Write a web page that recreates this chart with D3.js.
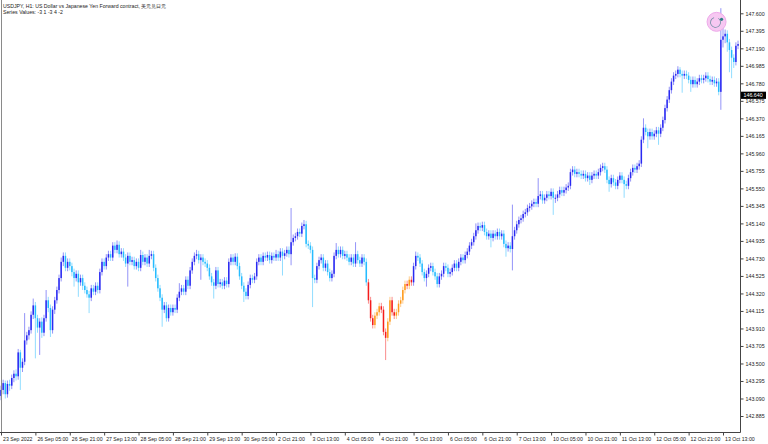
<!DOCTYPE html>
<html><head><meta charset="utf-8">
<script src="https://cdn.jsdelivr.net/npm/d3@7/dist/d3.min.js"></script>
<style>body{margin:0;background:#fff}svg{display:block}</style>
</head><body><svg id="c" width="768" height="444"></svg>
<script>
const title = "USDJPY, H1:  US Dollar vs Japanese Yen Forward contract, 美元兑日元";
const subtitle = "Series Values: -3 1 -3 4 -2";

const opens = [
143.12,143.19,143.27,143.14,143.26,143.24,143.33,143.38,143.35,143.63,
143.45,143.52,143.77,143.83,143.89,144.07,144.18,144.03,143.92,143.99,
143.86,144.03,144.24,144.15,143.89,144.13,144.24,144.36,144.50,144.69,
144.76,144.62,144.69,144.64,144.57,144.50,144.55,144.45,144.50,144.41,
144.36,144.31,144.27,144.38,144.34,144.41,144.36,144.57,144.69,144.64,
144.74,144.78,144.74,144.88,144.83,144.89,144.78,144.81,144.74,144.67,
144.76,144.69,144.71,144.64,144.69,144.62,144.77,144.69,144.74,144.67,
144.76,144.78,144.62,144.50,144.38,144.27,144.13,144.18,144.03,144.15,
144.10,144.15,144.13,144.27,144.34,144.38,144.34,144.48,144.41,144.59,
144.69,144.76,144.78,144.71,144.74,144.69,144.67,144.62,144.52,144.45,
144.41,144.59,144.43,144.45,144.41,144.47,144.43,144.69,144.74,144.69,
144.75,144.64,144.52,144.41,144.34,144.29,144.42,144.50,144.48,144.52,
144.69,144.74,144.69,144.76,144.74,144.77,144.71,144.76,144.74,144.78,
144.74,144.81,144.76,144.79,144.83,144.78,144.92,144.97,144.99,145.04,
145.02,145.11,145.13,144.90,144.88,144.83,144.50,144.48,144.64,144.71,
144.74,144.62,144.67,144.57,144.50,144.55,144.76,144.83,144.78,144.83,
144.76,144.78,144.74,144.69,144.74,144.67,144.78,144.71,144.67,144.74,
144.69,144.45,144.24,144.03,143.95,144.06,144.10,144.17,144.13,143.87,
143.80,143.99,144.24,144.10,144.06,144.10,144.20,144.24,144.36,144.43,
144.41,144.48,144.45,144.64,144.76,144.74,144.67,144.57,144.50,144.55,
144.62,144.64,144.57,144.52,144.43,144.52,144.55,144.64,144.62,144.55,
144.57,144.62,144.67,144.62,144.69,144.74,144.71,144.77,144.81,144.88,
144.92,144.99,145.06,145.11,145.09,145.12,145.04,144.99,145.02,144.97,
145.02,144.99,145.04,144.99,145.02,144.90,144.85,144.88,144.84,144.99,
145.06,145.13,145.18,145.20,145.25,145.27,145.32,145.34,145.37,145.39,
145.37,145.46,145.48,145.41,145.44,145.48,145.46,145.51,145.44,145.44,
145.48,145.53,145.50,145.53,145.56,145.58,145.74,145.77,145.72,145.74,
145.72,145.70,145.72,145.67,145.70,145.65,145.70,145.72,145.70,145.74,
145.79,145.81,145.77,145.65,145.60,145.67,145.62,145.58,145.65,145.70,
145.65,145.60,145.58,145.67,145.74,145.79,145.77,145.81,145.84,146.12,
146.26,146.21,146.16,146.21,146.16,146.19,146.23,146.19,146.26,146.35,
146.49,146.59,146.70,146.80,146.87,146.89,146.94,146.89,146.87,146.89,
146.87,146.82,146.77,146.82,146.77,146.80,146.84,146.82,146.84,146.87,
146.83,146.80,146.82,146.78,146.80,146.68,147.29,147.33,147.36,147.26,
147.17,147.08,147.03,147.22];

const highs = [
143.24,143.31,143.30,143.30,143.31,143.37,143.42,143.43,143.67,143.66,
143.56,144.09,143.87,143.93,144.11,144.26,144.22,144.07,144.03,144.04,
144.07,144.36,144.28,144.19,144.17,144.28,144.40,144.54,144.74,144.80,
144.80,144.73,144.73,144.68,144.61,144.59,144.59,144.54,144.54,144.45,
144.40,144.35,144.42,144.42,144.45,144.45,144.61,144.73,144.73,144.78,
144.82,144.82,144.92,144.92,144.94,144.93,144.85,144.85,144.78,144.80,
144.80,144.75,144.75,144.73,144.73,144.83,144.81,144.78,144.78,144.83,
144.82,144.82,144.66,144.54,144.42,144.31,144.22,144.22,144.19,144.19,
144.19,144.19,144.31,144.44,144.42,144.42,144.52,144.52,144.63,144.73,
144.80,144.83,144.82,144.78,144.78,144.73,144.71,144.66,144.56,144.49,
144.63,144.63,144.49,144.49,144.51,144.51,144.73,144.78,144.78,144.79,
144.79,144.68,144.56,144.45,144.38,144.46,144.54,144.54,144.56,144.73,
144.78,144.78,144.80,144.80,144.81,144.81,144.80,144.80,144.83,144.82,
144.85,144.85,144.83,144.87,144.87,145.32,145.01,145.03,145.08,145.08,
145.15,145.18,145.17,144.94,144.92,144.87,144.54,144.68,144.75,144.78,
144.78,144.71,144.71,144.61,144.59,144.80,144.91,144.87,144.87,144.87,
144.82,144.82,144.78,144.78,144.78,144.92,144.82,144.75,144.78,144.78,
144.73,144.49,144.28,144.07,144.10,144.14,144.21,144.21,144.17,143.91,
144.03,144.28,144.28,144.14,144.14,144.24,144.28,144.40,144.47,144.47,
144.52,144.52,144.68,144.81,144.80,144.78,144.71,144.61,144.59,144.66,
144.68,144.68,144.61,144.56,144.56,144.59,144.68,144.68,144.66,144.61,
144.66,144.71,144.71,144.73,144.78,144.78,144.81,144.85,144.92,144.96,
145.03,145.14,145.15,145.15,145.16,145.16,145.08,145.06,145.06,145.06,
145.06,145.08,145.08,145.06,145.06,144.94,144.92,144.92,145.36,145.10,
145.17,145.22,145.24,145.29,145.31,145.36,145.38,145.41,145.43,145.43,
145.67,145.52,145.52,145.48,145.52,145.52,145.55,145.55,145.48,145.52,
145.57,145.57,145.57,145.60,145.62,145.78,145.81,145.81,145.78,145.78,
145.76,145.76,145.76,145.74,145.74,145.74,145.76,145.76,145.78,145.83,
145.85,145.85,145.81,145.69,145.71,145.71,145.66,145.69,145.74,145.74,
145.69,145.64,145.71,145.78,145.83,145.83,145.85,145.88,146.16,146.37,
146.30,146.25,146.25,146.25,146.23,146.27,146.27,146.30,146.39,146.53,
146.63,146.74,146.84,146.91,146.93,146.98,146.97,146.93,146.93,146.93,
146.91,146.86,146.86,146.86,146.84,146.88,146.88,146.88,146.91,146.91,
146.87,146.86,146.86,146.84,146.84,147.66,147.58,147.41,147.40,147.30,
147.21,147.12,147.26,147.28];

const lows = [
143.07,143.14,143.09,143.10,143.18,143.20,143.28,143.30,143.31,143.19,
143.40,143.48,143.72,143.78,143.85,144.02,143.56,143.86,143.60,143.80,
143.82,143.99,144.10,143.81,143.85,144.08,144.20,144.32,144.46,144.64,
144.58,144.58,144.59,144.52,144.40,144.46,144.28,144.41,144.36,144.32,
144.27,144.09,144.23,144.30,144.30,144.32,144.32,144.53,144.60,144.60,
144.70,144.70,144.70,144.79,144.79,144.74,144.74,144.70,144.63,144.40,
144.65,144.65,144.60,144.60,144.58,144.58,144.65,144.65,144.63,144.63,
144.72,144.58,144.46,144.34,144.23,143.93,144.09,143.99,143.99,144.06,
144.06,144.09,144.09,144.23,144.30,144.30,144.30,144.37,144.37,144.55,
144.65,144.72,144.67,144.48,144.65,144.63,144.58,144.48,144.41,144.26,
144.37,144.39,144.39,144.37,144.37,144.39,144.39,144.65,144.65,144.65,
144.60,144.48,144.37,144.22,144.25,144.25,144.38,144.44,144.44,144.48,
144.65,144.65,144.65,144.70,144.70,144.67,144.67,144.70,144.70,144.70,
144.70,144.53,144.72,144.75,144.74,144.65,144.88,144.93,144.95,144.98,
144.98,145.07,144.86,144.84,144.79,144.16,144.44,144.44,144.60,144.67,
144.58,144.58,144.53,144.46,144.46,144.51,144.72,144.74,144.74,144.72,
144.72,144.70,144.65,144.65,144.63,144.63,144.67,144.63,144.63,144.65,
144.41,144.20,143.99,143.91,143.91,144.02,144.06,144.09,143.83,143.54,
143.76,143.95,144.06,144.02,144.02,144.06,144.16,144.20,144.32,144.37,
144.37,144.41,144.41,144.60,144.70,144.63,144.53,144.46,144.40,144.51,
144.58,144.53,144.48,144.39,144.39,144.48,144.51,144.58,144.51,144.51,
144.53,144.58,144.58,144.58,144.65,144.67,144.67,144.73,144.77,144.84,
144.88,144.95,145.02,145.05,145.05,145.00,144.95,144.95,144.86,144.93,
144.95,144.95,144.95,144.95,144.86,144.75,144.81,144.80,144.59,144.95,
145.02,145.09,145.14,145.16,145.21,145.23,145.28,145.30,145.33,145.33,
145.33,145.42,145.37,145.37,145.40,145.42,145.42,145.24,145.38,145.40,
145.44,145.46,145.46,145.49,145.52,145.54,145.70,145.68,145.68,145.68,
145.66,145.66,145.63,145.63,145.59,145.61,145.66,145.66,145.66,145.70,
145.75,145.73,145.61,145.51,145.56,145.58,145.54,145.54,145.61,145.61,
145.44,145.54,145.54,145.63,145.70,145.73,145.73,145.77,145.80,146.08,
146.17,146.02,146.12,146.12,146.12,146.15,146.06,146.15,146.22,146.31,
146.45,146.55,146.66,146.76,146.83,146.85,146.85,146.67,146.83,146.83,
146.78,146.68,146.73,146.73,146.73,146.76,146.78,146.78,146.80,146.79,
146.76,146.76,146.74,146.74,146.64,146.47,147.20,147.25,147.15,146.91,
146.84,146.96,146.99,147.18];

const closes = [
143.19,143.27,143.14,143.26,143.24,143.33,143.38,143.35,143.63,143.45,
143.52,143.77,143.83,143.89,144.07,144.18,144.03,143.92,143.99,143.86,
144.03,144.24,144.15,143.89,144.13,144.24,144.36,144.50,144.69,144.76,
144.62,144.69,144.64,144.57,144.50,144.55,144.45,144.50,144.41,144.36,
144.31,144.27,144.38,144.34,144.41,144.36,144.57,144.69,144.64,144.74,
144.78,144.74,144.88,144.83,144.89,144.78,144.81,144.74,144.67,144.76,
144.69,144.71,144.64,144.69,144.62,144.77,144.69,144.74,144.67,144.76,
144.78,144.62,144.50,144.38,144.27,144.13,144.18,144.03,144.15,144.10,
144.15,144.13,144.27,144.34,144.38,144.34,144.48,144.41,144.59,144.69,
144.76,144.78,144.71,144.74,144.69,144.67,144.62,144.52,144.45,144.41,
144.59,144.43,144.45,144.41,144.47,144.43,144.69,144.74,144.69,144.75,
144.64,144.52,144.41,144.34,144.29,144.42,144.50,144.48,144.52,144.69,
144.74,144.69,144.76,144.74,144.77,144.71,144.76,144.74,144.78,144.74,
144.81,144.76,144.79,144.83,144.78,144.92,144.97,144.99,145.04,145.02,
145.11,145.13,144.90,144.88,144.83,144.50,144.48,144.64,144.71,144.74,
144.62,144.67,144.57,144.50,144.55,144.76,144.83,144.78,144.83,144.76,
144.78,144.74,144.69,144.74,144.67,144.78,144.71,144.67,144.74,144.69,
144.45,144.24,144.03,143.95,144.06,144.10,144.17,144.13,143.87,143.80,
143.99,144.24,144.10,144.06,144.10,144.20,144.24,144.36,144.43,144.41,
144.48,144.45,144.64,144.76,144.74,144.67,144.57,144.50,144.55,144.62,
144.64,144.57,144.52,144.43,144.52,144.55,144.64,144.62,144.55,144.57,
144.62,144.67,144.62,144.69,144.74,144.71,144.77,144.81,144.88,144.92,
144.99,145.06,145.11,145.09,145.12,145.04,144.99,145.02,144.97,145.02,
144.99,145.04,144.99,145.02,144.90,144.85,144.88,144.84,144.99,145.06,
145.13,145.18,145.20,145.25,145.27,145.32,145.34,145.37,145.39,145.37,
145.46,145.48,145.41,145.44,145.48,145.46,145.51,145.44,145.44,145.48,
145.53,145.50,145.53,145.56,145.58,145.74,145.77,145.72,145.74,145.72,
145.70,145.72,145.67,145.70,145.65,145.70,145.72,145.70,145.74,145.79,
145.81,145.77,145.65,145.60,145.67,145.62,145.58,145.65,145.70,145.65,
145.60,145.58,145.67,145.74,145.79,145.77,145.81,145.84,146.12,146.26,
146.21,146.16,146.21,146.16,146.19,146.23,146.19,146.26,146.35,146.49,
146.59,146.70,146.80,146.87,146.89,146.94,146.89,146.87,146.89,146.87,
146.82,146.77,146.82,146.77,146.80,146.84,146.82,146.84,146.87,146.83,
146.80,146.82,146.78,146.80,146.68,147.29,147.33,147.36,147.26,147.17,
147.08,147.03,147.22,147.24];

// bars painted in the bearish (red / orange) regime
const bearRegime = [171, 191];

const timeLabels = ["23 Sep 2022","26 Sep 05:00","26 Sep 21:00","27 Sep 13:00","28 Sep 05:00",
  "28 Sep 21:00","29 Sep 13:00","30 Sep 05:00","2 Oct 21:00","3 Oct 13:00","4 Oct 05:00",
  "4 Oct 21:00","5 Oct 13:00","6 Oct 05:00","6 Oct 21:00","7 Oct 13:00","10 Oct 05:00",
  "10 Oct 21:00","11 Oct 13:00","12 Oct 05:00","12 Oct 21:00","13 Oct 13:00"];
const barsPerLabel = 16;

const priceTicks = [147.600,147.395,147.190,146.985,146.780,146.575,146.370,146.165,145.960,
  145.755,145.550,145.345,145.140,144.935,144.730,144.525,144.320,144.115,143.910,143.705,
  143.500,143.295,143.090,142.885];

const markerValue = 146.640;
const signalBar = 333, signalPrice = 147.50;

// ---------- drawing ----------
const svg = d3.select("#c");
const FONT = "Liberation Sans, Arial, sans-serif";
const plotR = 740.5, plotB = 432.5;

const x = d3.scaleLinear().domain([0, 336]).range([1, 723]);
const y = d3.scaleLinear().domain([142.885, 147.600]).range([416, 13.3]);

const bars = closes.map((c, i) => ({i, o: opens[i], h: highs[i], l: lows[i], c}));
const colorOf = d => {
  const bear = d.i >= bearRegime[0] && d.i <= bearRegime[1];
  const up = d.c >= d.o;
  if (bear) return up ? "#ff9a1a" : "#f51c1c";
  return up ? "#2a2af2" : "#26bcff";
};

svg.append("defs").append("clipPath").attr("id","clip")
  .append("rect").attr("x",0).attr("y",0).attr("width",plotR).attr("height",plotB);

const g = svg.append("g").attr("clip-path","url(#clip)");
g.selectAll("line.w").data(bars).join("line").attr("class","w")
  .attr("x1", d => x(d.i)).attr("x2", d => x(d.i))
  .attr("y1", d => y(d.h)).attr("y2", d => y(d.l))
  .attr("stroke", colorOf).attr("stroke-opacity", 0.5).attr("stroke-width", 1);
g.selectAll("rect.b").data(bars).join("rect").attr("class","b")
  .attr("x", d => x(d.i) - 0.75).attr("width", 1.5)
  .attr("y", d => y(Math.max(d.o, d.c)))
  .attr("height", d => Math.max(1, Math.abs(y(d.o) - y(d.c))))
  .attr("fill", colorOf);

// signal marker
const mx = x(signalBar), my = y(signalPrice);
svg.append("circle").attr("cx", mx).attr("cy", my).attr("r", 9.5)
  .attr("fill", "#f7c8f2").attr("stroke", "#eeaaea").attr("stroke-width", 1);
svg.append("path").attr("transform", `translate(${mx-1},${my+0.5})`)
  .attr("d", d3.arc()({innerRadius: 4.6, outerRadius: 5.4, startAngle: 0.6, endAngle: 2*Math.PI - 0.3}))
  .attr("fill", "#6f8fa3");
svg.append("circle").attr("cx", mx + 5).attr("cy", my - 2.5).attr("r", 1.6).attr("fill", "#2f7f86");

// frame
svg.append("line").attr("x1",1.5).attr("x2",1.5).attr("y1",0).attr("y2",plotB).attr("stroke","#8a8a8a");
svg.append("line").attr("x1",plotR).attr("x2",plotR).attr("y1",0).attr("y2",plotB).attr("stroke","#444");
svg.append("line").attr("x1",0).attr("x2",plotR).attr("y1",plotB).attr("y2",plotB).attr("stroke","#444");

// y axis
const ya = svg.append("g").attr("transform", `translate(${plotR},0)`)
  .call(d3.axisRight(y).tickValues(priceTicks).tickFormat(d3.format(".3f")).tickSize(3).tickPadding(2));
ya.select(".domain").remove();
ya.selectAll("line").attr("stroke", "#444");
ya.selectAll("text").attr("font-family", FONT).attr("font-size", 5.3).attr("fill", "#222");

// x axis
const labelIdx = timeLabels.map((_, k) => k * barsPerLabel);
const xa = svg.append("g").attr("transform", `translate(0,${plotB})`)
  .call(d3.axisBottom(x).tickValues(labelIdx).tickFormat((d, k) => timeLabels[k]).tickSize(3).tickPadding(1.5));
xa.select(".domain").remove();
xa.selectAll("line").attr("stroke", "#444");
xa.selectAll("text").attr("font-family", FONT).attr("font-size", 5.2).attr("fill", "#222")
  .attr("text-anchor", "start").attr("dx", 1.5);

// marker price box
const by = y(markerValue);
svg.append("rect").attr("x", plotR + 0.5).attr("y", by - 3.6).attr("width", 25).attr("height", 7.2).attr("fill", "#000");
svg.append("text").attr("x", plotR + 3).attr("y", by).attr("dy", "0.35em")
  .attr("font-family", FONT).attr("font-size", 5.3).attr("fill", "#fff").text(d3.format(".3f")(markerValue));

// titles
svg.append("text").attr("x", 3).attr("y", 7.5).attr("font-family", FONT).attr("font-size", 5.2).attr("fill", "#222").text(title);
svg.append("text").attr("x", 3).attr("y", 13.8).attr("font-family", FONT).attr("font-size", 5.2).attr("fill", "#222").text(subtitle);
</script></body></html>
